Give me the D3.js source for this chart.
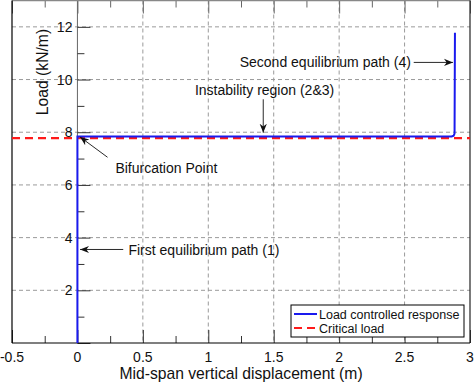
<!DOCTYPE html>
<html><head><meta charset="utf-8">
<script src="https://cdn.jsdelivr.net/npm/d3@7"></script>
<style>body{margin:0;background:#fff}svg{display:block}text{font-family:"Liberation Sans",Arial,sans-serif;fill:#111}</style>
</head><body><svg id="c" width="474" height="382"></svg>
<script>
// Data
const xTicks = [-0.5, 0, 0.5, 1, 1.5, 2, 2.5, 3];
const xTickLabels = ["-0.5", "0", "0.5", "1", "1.5", "2", "2.5", "3"];
const yTicks = [2, 4, 6, 8, 10, 12];
const yTickLabels = ["2", "4", "6", "8", "10", "12"];
const responseX = [0, 0, 2.86, 2.875, 2.882, 2.885];
const responseY = [0, 7.84, 7.84, 7.87, 7.95, 11.78];
const criticalLoad = 7.78;
const seriesNames = ["Load controlled response", "Critical load"];

const svg = d3.select("#c");
const x = d3.scaleLinear().domain([-0.5, 3]).range([12, 470]);
const y = d3.scaleLinear().domain([0, 13]).range([343, 0.5]);
const L = 12, R = 470, T = 0.5, B = 343;

// grid
const g = svg.append("g");
g.selectAll(".gy").data(yTicks).enter().append("line")
  .attr("x1", L).attr("x2", R).attr("y1", d => y(d)).attr("y2", d => y(d))
  .attr("stroke", "#9a9a9a").attr("stroke-width", 1).attr("stroke-dasharray", "4,3");
g.selectAll(".gx").data(xTicks.filter(d => d > 0 && d < 3)).enter().append("line")
  .attr("y1", T).attr("y2", B).attr("x1", d => x(d)).attr("x2", d => x(d))
  .attr("stroke", "#9a9a9a").attr("stroke-width", 1).attr("stroke-dasharray", "4,3");

// y axis at x=0
svg.append("line").attr("x1", x(0)).attr("x2", x(0)).attr("y1", T).attr("y2", B)
  .attr("stroke", "#666").attr("stroke-width", 1);
const yAx = d3.axisRight(y).tickValues(yTicks.concat([0])).tickSize(13).tickFormat("");
const yAxG = svg.append("g").attr("transform", `translate(${x(0)},0)`).call(yAx);
const yMin = d3.axisRight(y).tickValues(d3.range(1, 13, 2)).tickSize(7).tickFormat("");
const yMinG = svg.append("g").attr("transform", `translate(${x(0)},0)`).call(yMin);
[yAxG, yMinG].forEach(a => { a.select(".domain").remove(); a.selectAll("line").attr("stroke", "#333"); });

// y tick labels
svg.selectAll(".yl").data(yTicks).enter().append("text")
  .attr("x", x(0) - 5).attr("y", d => y(d)).attr("dy", "0.36em")
  .attr("text-anchor", "end").attr("font-size", 14).text((d, i) => yTickLabels[i]);

// x axis bottom
const xMaj = d3.axisTop(x).tickValues(xTicks).tickSize(13).tickFormat("");
const xMin = d3.axisTop(x).tickValues(d3.range(-0.25, 3, 0.5)).tickSize(7).tickFormat("");
const xb1 = svg.append("g").attr("transform", `translate(0,${B})`).call(xMaj);
const xb2 = svg.append("g").attr("transform", `translate(0,${B})`).call(xMin);
const xt1 = svg.append("g").attr("transform", `translate(0,${T})`).call(d3.axisBottom(x).tickValues(xTicks).tickSize(13).tickFormat(""));
const xt2 = svg.append("g").attr("transform", `translate(0,${T})`).call(d3.axisBottom(x).tickValues(d3.range(-0.25, 3, 0.5)).tickSize(7).tickFormat(""));
[xb1, xb2, xt1, xt2].forEach(a => { a.select(".domain").remove(); a.selectAll("line").attr("stroke", "#333"); });
[xt1, xt2].forEach(a => a.selectAll("line").attr("stroke", "#666"));

svg.selectAll(".xl").data(xTicks).enter().append("text")
  .attr("x", d => x(d)).attr("y", B + 14).attr("dy", "0.36em")
  .attr("text-anchor", "middle").attr("font-size", 14).text((d, i) => xTickLabels[i]);

// frame
svg.append("line").attr("x1", L).attr("x2", R).attr("y1", T).attr("y2", T).attr("stroke", "#888").attr("stroke-width", 1.5);
svg.append("line").attr("x1", L).attr("x2", L).attr("y1", T).attr("y2", B).attr("stroke", "#000").attr("stroke-width", 1.2);
svg.append("line").attr("x1", R).attr("x2", R).attr("y1", T).attr("y2", B).attr("stroke", "#222").attr("stroke-width", 1.2);
svg.append("line").attr("x1", L).attr("x2", R).attr("y1", B).attr("y2", B).attr("stroke", "#000").attr("stroke-width", 1.2);

// critical load
svg.append("line").attr("x1", x(-0.5)).attr("x2", x(3)).attr("y1", y(criticalLoad)).attr("y2", y(criticalLoad))
  .attr("stroke", "#ff1a1a").attr("stroke-width", 2.2).attr("stroke-dasharray", "8,5");

// response line
const pts = responseX.map((v, i) => [v, responseY[i]]);
svg.append("path").datum(pts)
  .attr("d", d3.line().x(d => x(d[0])).y(d => y(d[1])))
  .attr("fill", "none").attr("stroke", "#1a1aee").attr("stroke-width", 2);

// arrow marker
const defs = svg.append("defs");
defs.append("marker").attr("id", "ah").attr("viewBox", "0 0 10 10").attr("refX", 10).attr("refY", 5)
  .attr("markerWidth", 9).attr("markerHeight", 9).attr("markerUnits", "userSpaceOnUse").attr("orient", "auto")
  .append("path").attr("d", "M0,1 L10,5 L0,9 L3,5 Z").attr("fill", "#111");

function arrow(x1, y1, x2, y2) {
  svg.append("line").attr("x1", x(x1)).attr("y1", y(y1)).attr("x2", x(x2)).attr("y2", y(y2))
    .attr("stroke", "#111").attr("stroke-width", 0.9).attr("marker-end", "url(#ah)");
}
function label(tx, ty, s, anchor) {
  svg.append("text").attr("x", x(tx)).attr("y", y(ty)).attr("dy", "0.36em")
    .attr("text-anchor", anchor || "start").attr("font-size", 14).text(s);
}
// annotations
label(1.24, 10.65, "Second equilibrium path (4)");
arrow(2.57, 10.65, 2.87, 10.65);
label(1.43, 9.6, "Instability region (2&3)", "middle");
arrow(1.42, 9.25, 1.42, 7.98);
label(0.29, 6.66, "Bifurcation Point");
arrow(0.23, 7.05, 0.02, 7.82);
label(0.39, 3.55, "First equilibrium path (1)");
arrow(0.35, 3.55, 0.02, 3.55);

// axis titles
svg.append("text").attr("x", (L + R) / 2).attr("y", 373).attr("dy", "0.36em").attr("text-anchor", "middle")
  .attr("font-size", 15.7).text("Mid-span vertical displacement (m)");
svg.append("text").attr("transform", `translate(42,${72}) rotate(-90)`).attr("dy", "0.36em").attr("text-anchor", "middle")
  .attr("font-size", 15.7).text("Load (kN/m)");

// legend
const lg = svg.append("g");
lg.append("rect").attr("x", 291).attr("y", 305).attr("width", 173).attr("height", 32)
  .attr("fill", "#fff").attr("stroke", "#000").attr("stroke-width", 1);
lg.append("line").attr("x1", 294).attr("x2", 317).attr("y1", 314).attr("y2", 314).attr("stroke", "#1a1aee").attr("stroke-width", 2);
lg.append("line").attr("x1", 294).attr("x2", 317).attr("y1", 328).attr("y2", 328).attr("stroke", "#ff1a1a").attr("stroke-width", 2).attr("stroke-dasharray", "8,5");
lg.append("text").attr("x", 319).attr("y", 314).attr("dy", "0.36em").attr("font-size", 12.5).text(seriesNames[0]);
lg.append("text").attr("x", 319).attr("y", 328).attr("dy", "0.36em").attr("font-size", 12.5).text(seriesNames[1]);
</script></body></html>
